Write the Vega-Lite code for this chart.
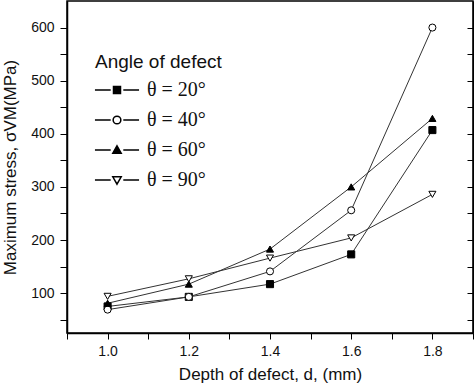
{
  "$schema": "https://vega.github.io/schema/vega-lite/v6.json",
  "width": 406,
  "height": 332,
  "autosize": "none",
  "padding": {"left": 67, "top": 1, "right": 1, "bottom": 53},
  "background": "white",
  "config": {
    "view": {"stroke": "#000", "strokeWidth": 1.5},
    "axis": {
      "grid": false,
      "domainColor": "#000",
      "domainWidth": 1.5,
      "tickColor": "#000",
      "tickWidth": 1,
      "labelFont": "Liberation Sans",
      "labelFontSize": 14,
      "labelColor": "#111",
      "titleFont": "Liberation Sans",
      "titleFontSize": 17,
      "titleFontWeight": "normal",
      "titleColor": "#111",
      "labelOverlap": false,
      "labelFlush": false
    },
    "legend": {
      "labelFont": "Liberation Serif",
      "titleFont": "Liberation Sans"
    }
  },
  "data": {
    "values": [
      {"d": 1.0, "stress": 75, "angle": "θ = 20°"},
      {"d": 1.2, "stress": 93, "angle": "θ = 20°"},
      {"d": 1.4, "stress": 117, "angle": "θ = 20°"},
      {"d": 1.6, "stress": 173, "angle": "θ = 20°"},
      {"d": 1.8, "stress": 407, "angle": "θ = 20°"},
      {"d": 1.0, "stress": 69, "angle": "θ = 40°"},
      {"d": 1.2, "stress": 93, "angle": "θ = 40°"},
      {"d": 1.4, "stress": 141, "angle": "θ = 40°"},
      {"d": 1.6, "stress": 256, "angle": "θ = 40°"},
      {"d": 1.8, "stress": 600, "angle": "θ = 40°"},
      {"d": 1.0, "stress": 81, "angle": "θ = 60°"},
      {"d": 1.2, "stress": 117, "angle": "θ = 60°"},
      {"d": 1.4, "stress": 183, "angle": "θ = 60°"},
      {"d": 1.6, "stress": 300, "angle": "θ = 60°"},
      {"d": 1.8, "stress": 429, "angle": "θ = 60°"},
      {"d": 1.0, "stress": 94, "angle": "θ = 90°"},
      {"d": 1.2, "stress": 127, "angle": "θ = 90°"},
      {"d": 1.4, "stress": 166, "angle": "θ = 90°"},
      {"d": 1.6, "stress": 204, "angle": "θ = 90°"},
      {"d": 1.8, "stress": 286, "angle": "θ = 90°"}
    ]
  },
  "encoding": {
    "x": {
      "field": "d",
      "type": "quantitative",
      "scale": {"domain": [0.9, 1.9], "nice": false, "zero": false},
      "axis": {
        "title": "Depth of defect, d, (mm)",
        "values": [0.9, 1.0, 1.1, 1.2, 1.3, 1.4, 1.5, 1.6, 1.7, 1.8, 1.9],
        "labelExpr": "(round(datum.value*10) % 2 == 0 && datum.value > 0.95 && datum.value < 1.85) ? format(datum.value, '.1f') : ''",
        "tickSize": 6,
        "labelPadding": 5,
        "titlePadding": 8
      }
    }
  },
  "layer": [
    {
      "mark": {"type": "line", "color": "#333", "strokeWidth": 1},
      "encoding": {
        "y": {
          "field": "stress",
          "type": "quantitative",
          "scale": {"domain": [25, 650], "nice": false, "zero": false},
          "axis": {
            "orient": "right",
            "title": null,
            "labels": false,
            "values": [50, 100, 150, 200, 250, 300, 350, 400, 450, 500, 550, 600],
            "tickSize": -6
          }
        },
        "detail": {"field": "angle"}
      }
    },
    {
      "mark": {"type": "point", "filled": true, "stroke": "#000", "strokeWidth": 1, "size": 50, "opacity": 1},
      "encoding": {
        "y": {
          "field": "stress",
          "type": "quantitative",
          "axis": {
            "title": "Maximum stress, σVM(MPa)",
            "values": [50, 100, 150, 200, 250, 300, 350, 400, 450, 500, 550, 600],
            "labelExpr": "datum.value % 100 == 0 ? datum.label : ''",
            "tickSize": 7,
            "labelPadding": 6,
            "titlePadding": 11
          }
        },
        "shape": {
          "field": "angle",
          "type": "nominal",
          "scale": {"domain": ["θ = 20°", "θ = 40°", "θ = 60°", "θ = 90°"], "range": ["square", "circle", "triangle-up", "triangle-down"]},
          "legend": null
        },
        "fill": {
          "field": "angle",
          "type": "nominal",
          "scale": {"domain": ["θ = 20°", "θ = 40°", "θ = 60°", "θ = 90°"], "range": ["#000", "#fff", "#000", "#fff"]},
          "legend": null
        }
      }
    },
    {
      "transform": [{"filter": "false"}],
      "mark": {"type": "point", "filled": true, "stroke": "#000", "strokeWidth": 1, "size": 49, "opacity": 1},
      "encoding": {
        "y": {"field": "stress", "type": "quantitative", "axis": null},
        "shape": {
          "field": "angle",
          "type": "nominal",
          "scale": {
            "domain": ["θ = 20°", "θ = 40°", "θ = 60°", "θ = 90°"],
            "range": [
              "M-6.3,0H-1.8M1.8,0H6.3M-1,-1H1V1H-1Z",
              "M-6.3,0H-1.8M1.8,0H6.3M1.1,0A1.1,1.1,0,1,1,-1.1,0A1.1,1.1,0,1,1,1.1,0Z",
              "M-6.3,0H-1.8M1.8,0H6.3M0,-1.2L1.2,0.9L-1.2,0.9Z",
              "M-6.3,0H-1.8M1.8,0H6.3M0,1.2L1.2,-0.9L-1.2,-0.9Z"
            ]
          },
          "legend": {
            "title": "Angle of defect",
            "orient": "none",
            "legendX": 28,
            "legendY": 52,
            "padding": 0,
            "titleFont": "Liberation Sans",
            "titleFontSize": 19,
            "titleFontWeight": "normal",
            "titleColor": "#111",
            "titlePadding": 8,
            "labelFont": "Liberation Serif",
            "labelFontSize": 20,
            "labelColor": "#111",
            "labelOffset": 20,
            "symbolOffset": 12,
            "symbolSize": 49,
            "rowPadding": 10,
            "encode": {
              "symbols": {"update": {"stroke": {"value": "#333"}, "strokeWidth": {"value": 1}}},
              "labels": {"update": {"font": {"value": "Liberation Serif"}}}
            }
          }
        },
        "fill": {
          "field": "angle",
          "type": "nominal",
          "scale": {"domain": ["θ = 20°", "θ = 40°", "θ = 60°", "θ = 90°"], "range": ["#000", "#fff", "#000", "#fff"]},
          "legend": {
            "title": "Angle of defect",
            "orient": "none",
            "legendX": 28,
            "legendY": 52,
            "padding": 0,
            "titleFont": "Liberation Sans",
            "titleFontSize": 19,
            "titleFontWeight": "normal",
            "titleColor": "#111",
            "titlePadding": 8,
            "labelFont": "Liberation Serif",
            "labelFontSize": 20,
            "labelColor": "#111",
            "labelOffset": 20,
            "symbolOffset": 12,
            "symbolSize": 49,
            "rowPadding": 10,
            "encode": {
              "symbols": {"update": {"stroke": {"value": "#333"}, "strokeWidth": {"value": 1}}},
              "labels": {"update": {"font": {"value": "Liberation Serif"}}}
            }
          }
        }
      }
    }
  ],
  "resolve": {
    "scale": {"shape": "independent", "fill": "independent"},
    "axis": {"y": "independent"}
  }
}
